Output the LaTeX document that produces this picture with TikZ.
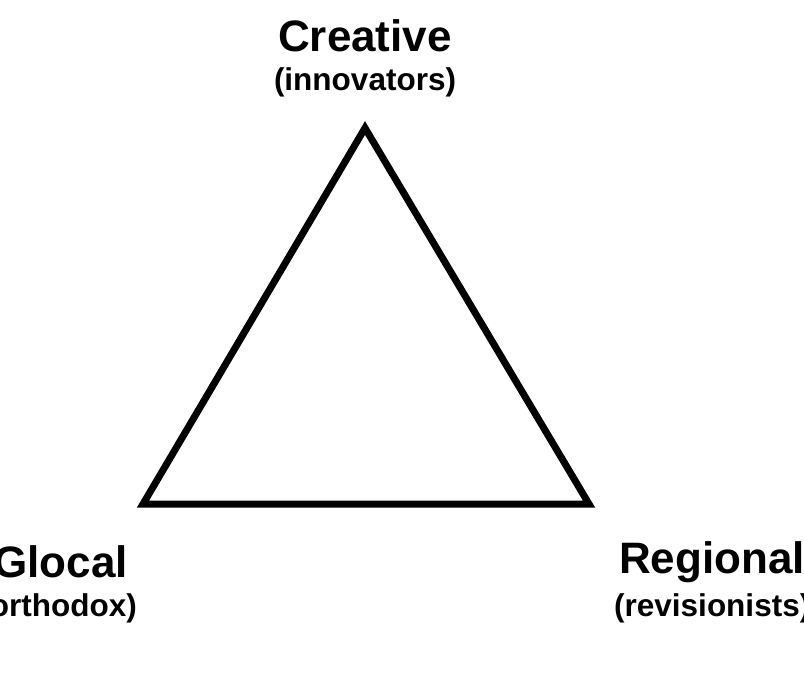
\documentclass[tikz,border=0pt]{standalone}
\usepackage{fontspec}
\setmainfont{Liberation Sans}
\usetikzlibrary{positioning}
\tikzset{
  title/.style={font=\fontsize{44}{48}\selectfont\bfseries, inner sep=0pt},
  subtitle/.style={font=\fontsize{31.5}{34}\selectfont\bfseries, inner sep=0pt}
}
\begin{document}
\begin{tikzpicture}[x=1pt, y=-1pt]
    \useasboundingbox (0,0) rectangle (804,682);
    % TRIANGLE
    \coordinate (top) at (365,128);
    \coordinate (left) at (143,504);
    \coordinate (right) at (589,504);
    \draw[line width=7pt, line join=miter] (top) -- (left) -- (right) -- cycle;
    % LABELS
    \node[title] (creative) at (365,36) {Creative};
    \node[subtitle] (innov) at (365,82) {(innovators)};
    \node[title, anchor=east] (glocal) at (128,562) {Glocal};
    \node[subtitle, anchor=east] (ortho) at (137,608) {(orthodox)};
    \node[title, anchor=west] (regional) at (619,562) {Regional};
    \node[subtitle, anchor=west] (revis) at (614,608) {(revisionists)};
\end{tikzpicture}
\end{document}
